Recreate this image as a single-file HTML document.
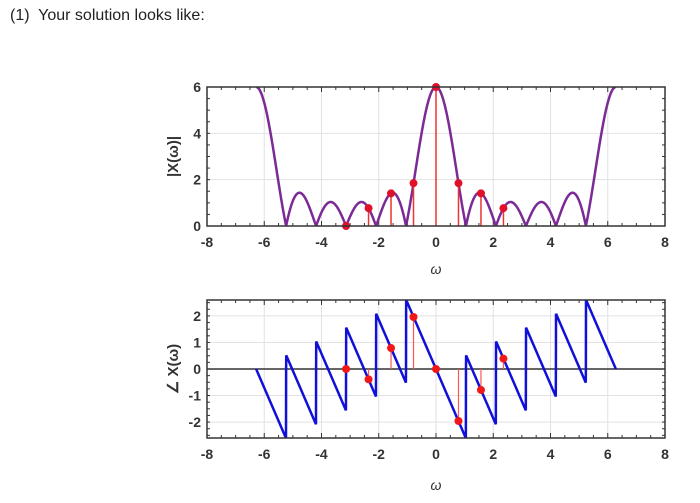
<!DOCTYPE html>
<html><head><meta charset="utf-8"><style>
body{margin:0;background:#fff;width:700px;height:503px;overflow:hidden;font-family:"Liberation Sans",sans-serif}
#title{position:absolute;left:10px;top:7px;font-size:16px;color:#222}
</style></head><body>
<div id="title">(1)&nbsp; Your solution looks like:</div>
<svg id="svg" width="700" height="503" style="position:absolute;left:0;top:0"></svg>
<script>
const signal=[1,1,1,1,1,1];
const sampleW=[-3.1416,-2.3562,-1.5708,-0.7854,0,0.7854,1.5708,2.3562];
const sampleMag=[0,0.77,1.41,1.85,6,1.85,1.41,0.77];
const samplePhase=[0,-0.39,0.79,1.96,0,-1.96,-0.79,0.39];
const xTicks=[-8,-6,-4,-2,0,2,4,6,8];
const magTicks=[0,2,4,6];
const phTicks=[-2,-1,0,1,2];
const NS="http://www.w3.org/2000/svg";
const svg=document.getElementById('svg');
function el(t,a,p){const e=document.createElementNS(NS,t);for(const k in a)e.setAttribute(k,a[k]);(p||svg).appendChild(e);return e;}
function dtft(w){let re=0,im=0;signal.forEach((v,n)=>{re+=v*Math.cos(w*n);im-=v*Math.sin(w*n);});return [re,im];}
const X0=207,X1=665;
function xs(v){return X0+(v+8)/16*(X1-X0);}
function panel(name,top,bot,ymin,ymax,yt,ylab,xlabY){
  const ys=v=>bot-(v-ymin)/(ymax-ymin)*(bot-top);
  const g=el('g',{});
  const cid='c'+name;const cp=el('clipPath',{id:cid},g);el('rect',{x:X0,y:top,width:X1-X0,height:bot-top},cp);
  xTicks.forEach(t=>{el('line',{x1:xs(t),x2:xs(t),y1:top,y2:bot,stroke:'#e2e2e2','stroke-width':1},g);
    const tx=el('text',{x:xs(t),y:bot+21,'text-anchor':'middle','font-size':14,'font-weight':'bold',fill:'#333'},g);tx.textContent=t;
    });
  yt.forEach(t=>{el('line',{x1:X0,x2:X1,y1:ys(t),y2:ys(t),stroke:'#e2e2e2','stroke-width':1},g);
    const ty=el('text',{x:X0-6,y:ys(t)+5,'text-anchor':'end','font-size':14,'font-weight':'bold',fill:'#333'},g);ty.textContent=t;
    });
  for(let t=-8;t<=8;t+=0.5){el('line',{x1:xs(t),x2:xs(t),y1:bot,y2:bot-(t%2==0?5:3),stroke:'#333'},g);el('line',{x1:xs(t),x2:xs(t),y1:top,y2:top+(t%2==0?5:3),stroke:'#333'},g);}
  const st=(yt[1]-yt[0])/4;for(let t=Math.ceil(ymin/st)*st;t<=ymax;t+=st){el('line',{x1:X0,x2:X0+3,y1:ys(t),y2:ys(t),stroke:'#333'},g);el('line',{x1:X1,x2:X1-3,y1:ys(t),y2:ys(t),stroke:'#333'},g);}
  const yl=el('text',{transform:`translate(178,${(top+bot)/2}) rotate(-90)`,'text-anchor':'middle','font-size':15,'font-weight':'bold',fill:'#333'},g);yl.textContent=ylab;
  
  const xl=el('text',{x:xs(0),y:xlabY,'text-anchor':'middle','font-size':14,'font-style':'italic',fill:'#333'},g);xl.textContent='ω';
  
  return {g,ys,cid,top,bot};
}
const m=panel('magnitude-panel',87,226,0,6,magTicks,'|X(ω)|',274);
let d='';for(let i=0;i<=1200;i++){const w=-2*Math.PI+i*4*Math.PI/1200;const [r,im]=dtft(w);d+=(i?'L':'M')+xs(w).toFixed(2)+','+m.ys(Math.hypot(r,im)).toFixed(2);}
const ml=el('path',{d,fill:'none',stroke:'#7b2a96','stroke-width':2.5,'clip-path':`url(#${m.cid})`},m.g);

const p=panel('phase-panel',300,438,-2.6,2.6,phTicks,'∠ X(ω)',490);
el('line',{x1:X0,x2:X1,y1:p.ys(0),y2:p.ys(0),stroke:'#333','stroke-width':1.5},p.g);
d='';for(let i=0;i<=3000;i++){const w=-2*Math.PI+i*4*Math.PI/3000;const [r,im]=dtft(w);let a=Math.atan2(im,r);if(Math.hypot(r,im)<1e-9)a=0;d+=(i?'L':'M')+xs(w).toFixed(2)+','+p.ys(a).toFixed(2);}
const pl=el('path',{d,fill:'none',stroke:'#1010d8','stroke-width':2.5,'clip-path':`url(#${p.cid})`},p.g);

sampleW.forEach((w,i)=>{
  const s1=el('line',{x1:xs(w),x2:xs(w),y1:m.ys(0),y2:m.ys(sampleMag[i]),stroke:'#e33','stroke-width':1.5},m.g);
  
  const c1=el('circle',{cx:xs(w),cy:m.ys(sampleMag[i]),r:4,fill:'#e0102a'},m.g);
  
  const s2=el('line',{x1:xs(w),x2:xs(w),y1:p.ys(0),y2:p.ys(samplePhase[i]),stroke:'#f55','stroke-width':1.2},p.g);
  
  const c2=el('circle',{cx:xs(w),cy:p.ys(samplePhase[i]),r:4,fill:'#f01818'},p.g);
  
});
[m,p].forEach(q=>el('rect',{x:X0,y:q.top,width:X1-X0,height:q.bot-q.top,fill:'none',stroke:'#333','stroke-width':1.5},q.g));
</script>
</body></html>
